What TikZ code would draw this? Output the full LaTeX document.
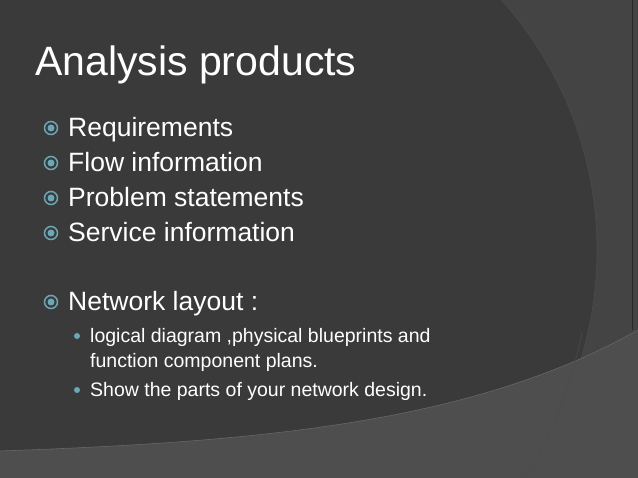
\documentclass[tikz,border=0pt]{standalone}
\usepackage{fontspec}
\setmainfont{Liberation Sans}
\begin{document}
\begin{tikzpicture}[x=1pt,y=-1pt,
  txt/.style={anchor=base west,inner sep=0pt,text=white},
  lvlone/.style={txt,font=\fontsize{26.5}{30}\selectfont},
  lvltwo/.style={txt,font=\fontsize{22.5}{26}\selectfont},
  ring/.style={circle,draw=bulletc,line width=1.5pt,minimum size=13pt,inner sep=0pt},
  dot/.style={circle,fill=bulletc,minimum size=7pt,inner sep=0pt}]
\definecolor{bulletc}{HTML}{6BA7B7}
\definecolor{bgc}{HTML}{3A3A3A}
\definecolor{outc}{HTML}{444444}
\definecolor{lowc}{HTML}{4E4E4E}
\useasboundingbox (0,0) rectangle (638,478);
\fill[outc] (0,0) rectangle (638,478);
\begin{scope}
\clip (0,0) rectangle (638,478);
\fill[bgc] (222,250) circle (375);
\draw[black!70,line width=0.6pt] (222,250) circle (375);
\fill[lowc] (0,451) .. controls (250,442) and (470,425) .. (638,330) -- (638,478) -- (0,478) -- cycle;
\draw[black!60,line width=0.6pt] (0,451) .. controls (250,442) and (470,425) .. (638,330);
\draw[gray!60!black,line width=0.6pt] (582,333) .. controls (570,390) and (550,440) .. (524,478);
\draw[black!40!outc,line width=0.5pt] (632,0) -- (632,330);
\end{scope}
\node[txt,font=\fontsize{41}{48}\selectfont] (title) at (35,76) {Analysis products};
\foreach \n/\y/\t in {a/137/Requirements,b/172/Flow information,c/207/Problem statements,d/242/Service information,e/311/Network layout :}{
  \node[lvlone] (\n) at (68,\y) {\t};
  \node[ring] (r\n) at (51,\y-9) {};
  \node[dot] at (r\n) {};
}
\node[lvltwo,font=\fontsize{19.5}{24}\selectfont] (f) at (90,343) {logical diagram ,physical blueprints and};
\node[lvltwo,font=\fontsize{19.5}{24}\selectfont] (f2) at (90,368) {function component plans.};
\node[dot,minimum size=6pt] at (77,336) {};
\node[lvltwo,font=\fontsize{19.5}{24}\selectfont] (g) at (90,397) {Show the parts of your network design.};
\node[dot,minimum size=6pt] at (77,390) {};
\end{tikzpicture}
\end{document}
